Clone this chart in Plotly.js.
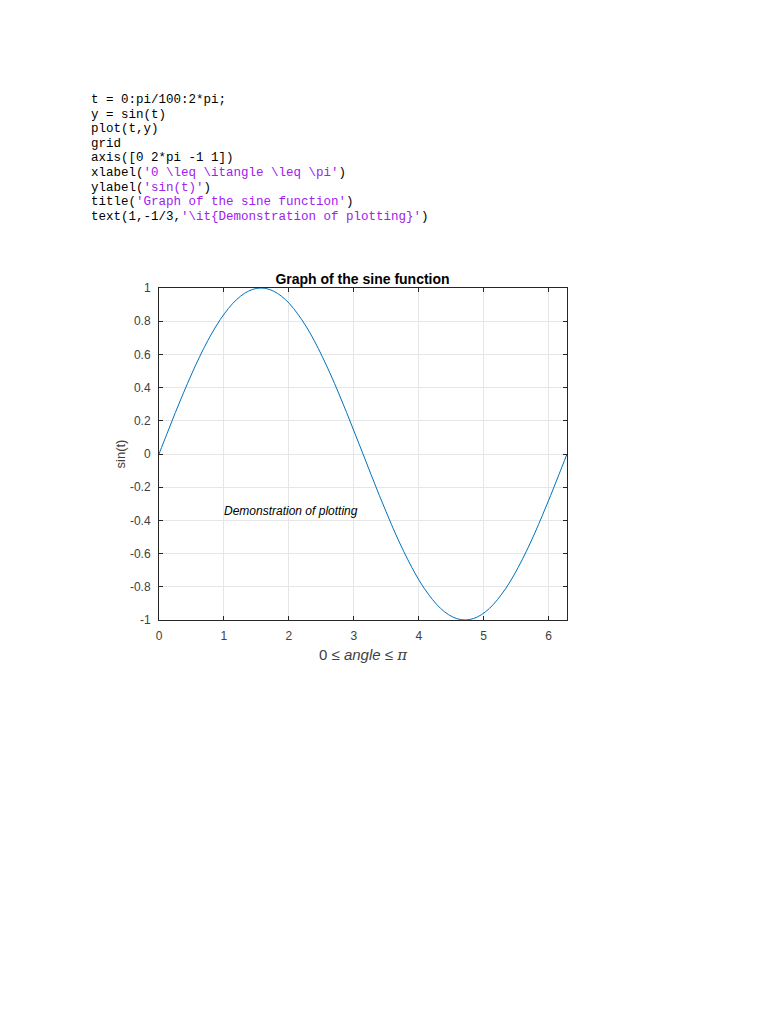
<!DOCTYPE html>
<html>
<head>
<meta charset="utf-8">
<script src="https://cdn.plot.ly/plotly-3.0.1.min.js"></script>
<style>
  html, body { margin:0; padding:0; background:#fff; width:768px; height:1024px; overflow:hidden; }
  #code { position:absolute; left:91px; top:93px; margin:0; font-family:"Liberation Mono", monospace; font-size:12.5px; line-height:14.6px; color:#000; z-index:2; }
  #code div { height:14.6px; white-space:pre; }
  #code .s { color:#a020f0; }
  #chart { position:absolute; left:0; top:0; width:768px; height:1024px; }
</style>
</head>
<body>
<div id="code">
<div>t = 0:pi/100:2*pi;</div>
<div>y = sin(t)</div>
<div>plot(t,y)</div>
<div>grid</div>
<div>axis([0 2*pi -1 1])</div>
<div>xlabel(<span class="s">'0 \leq \itangle \leq \pi'</span>)</div>
<div>ylabel(<span class="s">'sin(t)'</span>)</div>
<div>title(<span class="s">'Graph of the sine function'</span>)</div>
<div>text(1,-1/3,<span class="s">'\it{Demonstration of plotting}'</span>)</div>
</div>
<div id="chart"></div>
<script>
const tValues = [0, 0.126, 0.251, 0.377, 0.503, 0.628, 0.754, 0.880, 1.005, 1.131, 1.257, 1.382, 1.508, 1.634, 1.759, 1.885, 2.011, 2.136, 2.262, 2.388, 2.513, 2.639, 2.765, 2.890, 3.016, 3.142, 3.267, 3.393, 3.519, 3.644, 3.770, 3.896, 4.021, 4.147, 4.273, 4.398, 4.524, 4.650, 4.775, 4.901, 5.027, 5.152, 5.278, 5.404, 5.529, 5.655, 5.781, 5.906, 6.032, 6.158, 6.283];
const yValues = [0, 0.125, 0.249, 0.368, 0.482, 0.588, 0.685, 0.771, 0.844, 0.905, 0.951, 0.982, 0.998, 0.998, 0.982, 0.951, 0.905, 0.844, 0.771, 0.685, 0.588, 0.482, 0.368, 0.249, 0.125, 0, -0.125, -0.249, -0.368, -0.482, -0.588, -0.685, -0.771, -0.844, -0.905, -0.951, -0.982, -0.998, -0.998, -0.982, -0.951, -0.905, -0.844, -0.771, -0.685, -0.588, -0.482, -0.368, -0.249, -0.125, 0];
const xTickVals = [0, 1, 2, 3, 4, 5, 6];
const xTickText = ['0', '1', '2', '3', '4', '5', '6'];
const yTickVals = [-1, -0.8, -0.6, -0.4, -0.2, 0, 0.2, 0.4, 0.6, 0.8, 1];
const yTickText = ['-1', '-0.8', '-0.6', '-0.4', '-0.2', '0', '0.2', '0.4', '0.6', '0.8', '1'];
const titleText = 'Graph of the sine function';
const xLabel = '0 ≤ <i>angle</i> ≤ <span style="font-family:\'DejaVu Serif\';font-style:italic">π</span>';
const yLabel = 'sin(t)';
const noteText = '<i>Demonstration of plotting</i>';
const noteX = 1, noteY = -1/3;

const axisCommon = {
  showline: true, linecolor: '#262626', linewidth: 1, mirror: 'allticks',
  ticks: 'inside', ticklen: 4, tickcolor: '#262626', tickwidth: 1,
  showgrid: true, gridcolor: '#e6e6e6', gridwidth: 1, zeroline: false,
  tickfont: { family: 'Liberation Sans, Arial, sans-serif', size: 12, color: '#404040' },
  tickmode: 'array', ticklabelstandoff: 5
};

const data = [{
  x: tValues, y: yValues, type: 'scatter', mode: 'lines',
  line: { color: '#0072bd', width: 1, shape: 'spline', smoothing: 1 },
  hoverinfo: 'skip'
}];

const layout = {
  width: 768, height: 1024,
  margin: { l: 159, r: 201, t: 288, b: 404, pad: 0 },
  paper_bgcolor: '#ffffff', plot_bgcolor: '#ffffff',
  showlegend: false,
  font: { family: 'Liberation Sans, Arial, sans-serif', color: '#404040' },
  title: { text: '<b>' + titleText + '</b>', font: { family: 'Liberation Sans, Arial, sans-serif', size: 14, color: '#000' }, x: 0.472, xanchor: 'center', y: 1 - 279/1024, yanchor: 'middle' },
  xaxis: Object.assign({}, axisCommon, {
    range: [0, 6.2832], tickvals: xTickVals, ticktext: xTickText,
    title: { text: xLabel, font: { size: 15, color: '#404040' }, standoff: 7 }
  }),
  yaxis: Object.assign({}, axisCommon, {
    range: [-1, 1], tickvals: yTickVals, ticktext: yTickText,
    title: { text: yLabel, font: { size: 13, color: '#404040' }, standoff: 1 }
  }),
  annotations: [{
    x: noteX, y: noteY, xref: 'x', yref: 'y', text: noteText, showarrow: false,
    xanchor: 'left', yanchor: 'middle', xshift: -2, yshift: -2,
    font: { family: 'Liberation Sans, Arial, sans-serif', size: 12, color: '#000' }
  }]
};

Plotly.newPlot('chart', data, layout, { staticPlot: true, displayModeBar: false });
</script>
</body>
</html>
